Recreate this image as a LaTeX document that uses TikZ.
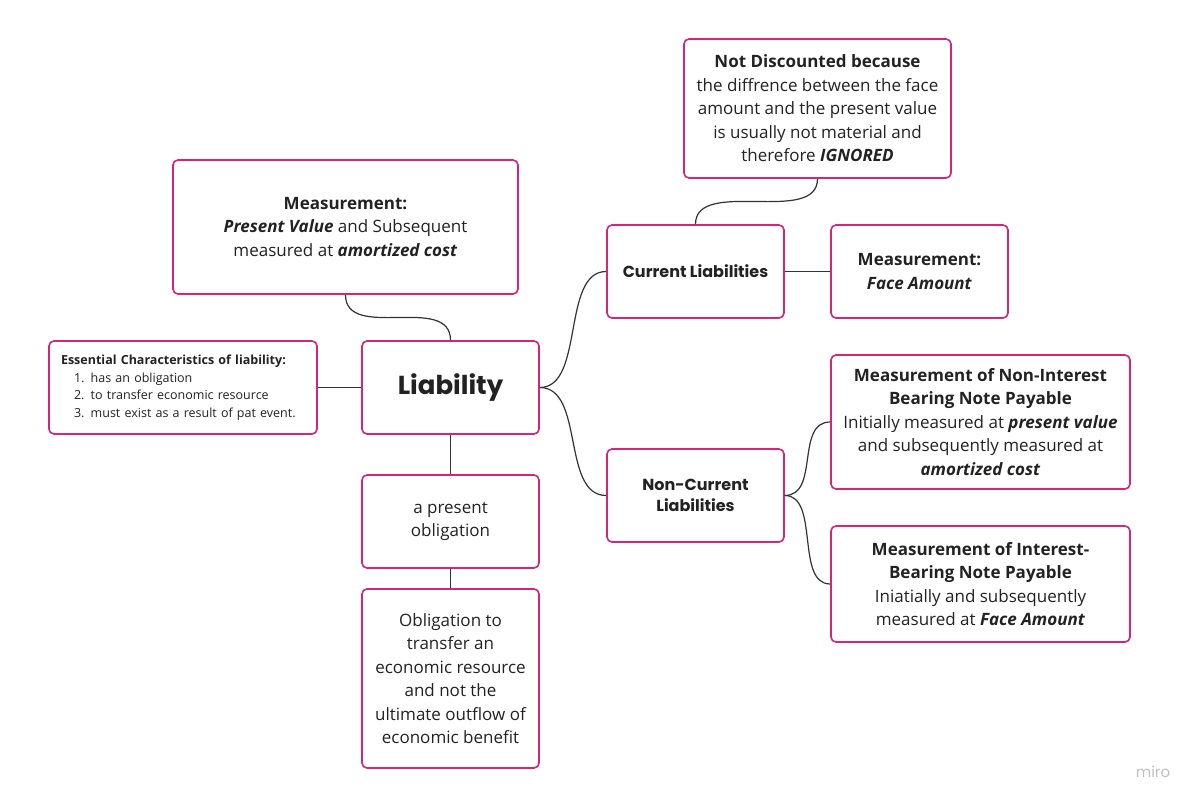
\documentclass[tikz,border=0pt]{standalone}
\usepackage{fontspec}
\setmainfont{Open Sans}
\newfontfamily\headfont{Poppins}
\usetikzlibrary{positioning}

\definecolor{cardpink}{RGB}{214,36,118}
\definecolor{inkgray}{RGB}{34,34,34}
\definecolor{linkgray}{RGB}{51,51,51}

\tikzset{
  card/.style={draw=cardpink, line width=1.6pt, rounded corners=5pt, fill=white,
    align=center, inner sep=0pt, text=inkgray, font=\fontsize{17}{23.5}\selectfont},
  topic/.style={card, font=\headfont\bfseries\fontsize{16}{21}\selectfont},
  link/.style={draw=linkgray, line width=1.2pt},
}
\newcommand{\bi}[1]{\textbf{\textit{#1}}}

\begin{document}
\begin{tikzpicture}[x=1pt,y=-1pt]
  \useasboundingbox (0,0) rectangle (1200,806);

  % root
  \node[topic, minimum width=177pt, minimum height=93pt,
    font=\headfont\bfseries\fontsize{26}{30}\selectfont] (liab) at (450.5,387.5) {Liability};

  % left side
  \node[card, minimum width=268pt, minimum height=93pt, text width=244pt, inner xsep=12pt,
    align=left, font=\fontsize{12.5}{17.5}\selectfont] (essent) at (183,387.5)
    {\textbf{Essential Characteristics of liability:}\\
     \hspace*{13pt}1. has an obligation\\
     \hspace*{13pt}2. to transfer economic resource\\
     \hspace*{13pt}3. must exist as a result of pat event.};
  \node[card, minimum width=345pt, minimum height=134pt] (meas) at (345.5,227)
    {\textbf{Measurement:}\\ \bi{Present Value} and Subsequent\\ measured at \bi{amortized cost}};

  % below
  \node[card, minimum width=177pt, minimum height=93pt] (pres) at (450.5,521.5)
    {a present\\ obligation};
  \node[card, minimum width=177pt, minimum height=179pt] (oblig) at (450.5,678.5)
    {Obligation to\\ transfer an\\ economic resource\\ and not the\\ ultimate outflow of\\ economic benefit};

  % current branch
  \node[topic, minimum width=177pt, minimum height=93pt] (curr) at (695.5,271.5)
    {Current Liabilities};
  \node[card, minimum width=177pt, minimum height=93pt] (face) at (919.5,271.5)
    {\textbf{Measurement:}\\ \bi{Face Amount}};
  \node[card, minimum width=267pt, minimum height=139pt] (notdisc) at (817.5,108.5)
    {\textbf{Not Discounted because}\\ the diffrence between the face\\ amount and the present value\\
     is usually not material and\\ therefore \bi{IGNORED}};

  % non-current branch
  \node[topic, minimum width=177pt, minimum height=93pt] (noncurr) at (695.5,495.5)
    {Non-Current\\ Liabilities};
  \node[card, minimum width=299pt, minimum height=134pt] (nonint) at (980.5,422)
    {\textbf{Measurement of Non-Interest}\\ \textbf{Bearing Note Payable}\\
     Initially measured at \bi{present value}\\ and subsequently measured at\\ \bi{amortized cost}};
  \node[card, minimum width=299pt, minimum height=116pt] (intbear) at (980.5,584)
    {\textbf{Measurement of Interest-}\\ \textbf{Bearing Note Payable}\\
     Iniatially and subsequently\\ measured at \bi{Face Amount}};

  % watermark
  \node[text=black!25, font=\headfont\fontsize{15}{17}\selectfont] (miro) at (1153,772) {miro};

  % connectors
  \draw[link] (essent.east) -- (liab.west);
  \draw[link] (liab.south) -- (pres.north);
  \draw[link] (pres.south) -- (oblig.north);
  \draw[link] (liab.north) .. controls +(0,-47) and +(0,47) .. (meas.south);
  \draw[link] (liab.east) .. controls +(45,0) and +(-45,0) .. (curr.west);
  \draw[link] (liab.east) .. controls +(45,0) and +(-45,0) .. (noncurr.west);
  \draw[link] (curr.east) -- (face.west);
  \draw[link] (curr.north) .. controls +(0,-47) and +(0,47) .. (notdisc.south);
  \draw[link] (noncurr.east) .. controls +(35,0) and +(-35,0) .. (nonint.west);
  \draw[link] (noncurr.east) .. controls +(35,0) and +(-35,0) .. (intbear.west);
\end{tikzpicture}
\end{document}
